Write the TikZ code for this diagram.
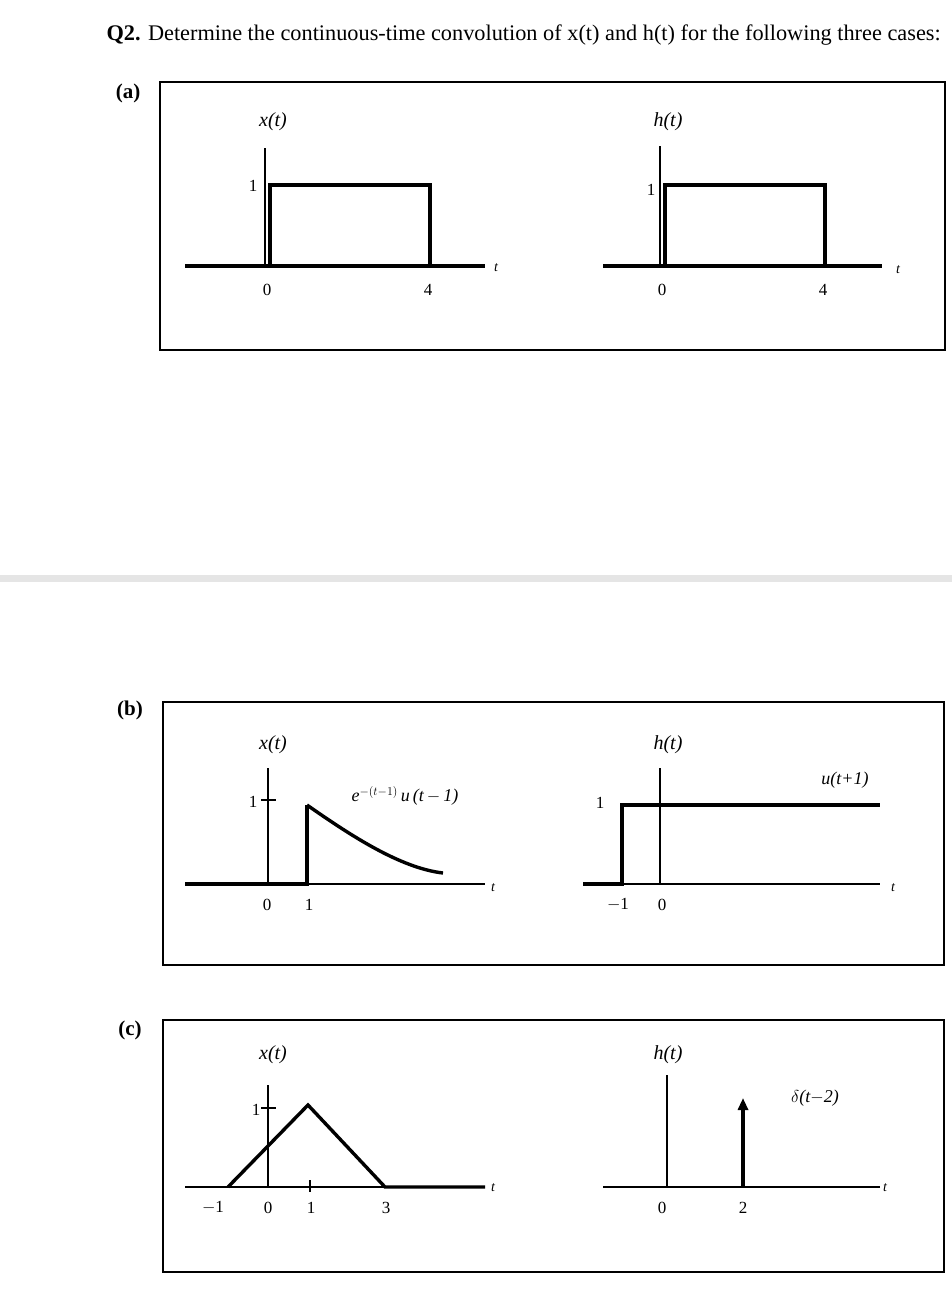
\documentclass[tikz,border=0pt]{standalone}
\usepackage{fontspec}
\setmainfont{Liberation Serif}
\usetikzlibrary{arrows.meta}
\begin{document}
\begin{tikzpicture}[x=1pt,y=-1pt,
  frame/.style={draw,line width=2.4pt},
  sig/.style={line width=3.4pt,line join=miter},
  ax/.style={line width=2.2pt},
  lab/.style={font=\fontsize{20}{20}\selectfont\itshape},
  num/.style={font=\fontsize{17}{17}\selectfont},
  tl/.style={font=\fontsize{14}{14}\selectfont\itshape}]
\useasboundingbox (0,0) rectangle (952,1304);
\fill[white] (0,0) rectangle (952,1304);
\node[anchor=west,font=\fontsize{22.3}{22}\selectfont] (title) at (103,35) {\textbf{Q2.} Determine the continuous-time convolution of x(t) and h(t) for the following three cases:};
\fill[black!10] (0,575) rectangle (952,582);
% frames
\node[font=\fontsize{21}{21}\selectfont\bfseries] (la) at (128,93) {(a)};
\draw[frame] (160,82) rectangle (945,350);
\node[font=\fontsize{21}{21}\selectfont\bfseries] (lb) at (130,710) {(b)};
\draw[frame] (163,702) rectangle (944,965);
\node[font=\fontsize{21}{21}\selectfont\bfseries] (lc) at (130,1030) {(c)};
\draw[frame] (163,1020) rectangle (944,1272);
% (a) x(t)
\draw[ax] (265,148) -- (265,266);
\draw[sig] (185,266) -- (485,266);
\draw[sig] (270,266) -- (270,185) -- (430,185) -- (430,266);
\node[lab] (ax1) at (273,122) {x(t)};
\node[num] at (253,186) {1};
\node[num] at (267,290) {0};
\node[num] at (428,290) {4};
\node[tl] at (496,268) {t};
% (a) h(t)
\draw[ax] (660,146) -- (660,266);
\draw[sig] (603,266) -- (882,266);
\draw[sig] (665,266) -- (665,185) -- (825,185) -- (825,266);
\node[lab] at (668,122) {h(t)};
\node[num] at (651,190) {1};
\node[num] at (662,290) {0};
\node[num] at (823,290) {4};
\node[tl] at (898,270) {t};
% (b) x(t)
\draw[ax] (268,768) -- (268,884);
\draw[ax] (261,800) -- (276,800);
\draw[sig] (185,884) -- (307,884) -- (307,805);
\draw[sig] (307,805) .. controls (350,835) and (400,868) .. (443,873);
\draw[ax] (307,884) -- (485,884);
\node[lab] at (273,745) {x(t)};
\node[num] at (253,802) {1};
\node[num] at (267,905) {0};
\node[num] at (309,905) {1};
\node[tl] at (493,888) {t};
\node[lab,font=\fontsize{18}{18}\selectfont\itshape] at (405,796) {e$^{-(t-1)}$\,u\,(t\,$-$\,1)};
% (b) h(t)
\draw[ax] (660,768) -- (660,884);
\draw[sig] (583,884) -- (622,884) -- (622,805) -- (880,805);
\draw[ax] (622,884) -- (880,884);
\node[lab] at (668,745) {h(t)};
\node[num] at (600,803) {1};
\node[num] at (618,905) {$-$1};
\node[num] at (662,905) {0};
\node[tl] at (893,888) {t};
\node[lab,font=\fontsize{18}{18}\selectfont\itshape] at (845,780) {u(t+1)};
% (c) x(t)
\draw[ax] (268,1085) -- (268,1187);
\draw[ax] (261,1108) -- (276,1108);
\draw[ax] (185,1187) -- (485,1187);
\draw[ax] (310,1180) -- (310,1192);
\draw[sig] (228,1187) -- (308,1105) -- (385,1187) -- (485,1187);
\node[lab] at (273,1055) {x(t)};
\node[num] at (256,1110) {1};
\node[num] at (213,1208) {$-$1};
\node[num] at (268,1208) {0};
\node[num] at (311,1208) {1};
\node[num] at (386,1208) {3};
\node[tl] at (493,1188) {t};
% (c) h(t)
\draw[ax] (667,1075) -- (667,1187);
\draw[ax] (603,1187) -- (880,1187);
\draw[sig,-{Triangle[length=12pt,width=10pt]}] (743,1187) -- (743,1098);
\node[lab] at (668,1055) {h(t)};
\node[num] at (662,1208) {0};
\node[num] at (743,1208) {2};
\node[tl] at (885,1188) {t};
\node[lab,font=\fontsize{18}{18}\selectfont\itshape] at (815,1098) {$\delta$(t$-$2)};
\end{tikzpicture}
\end{document}
